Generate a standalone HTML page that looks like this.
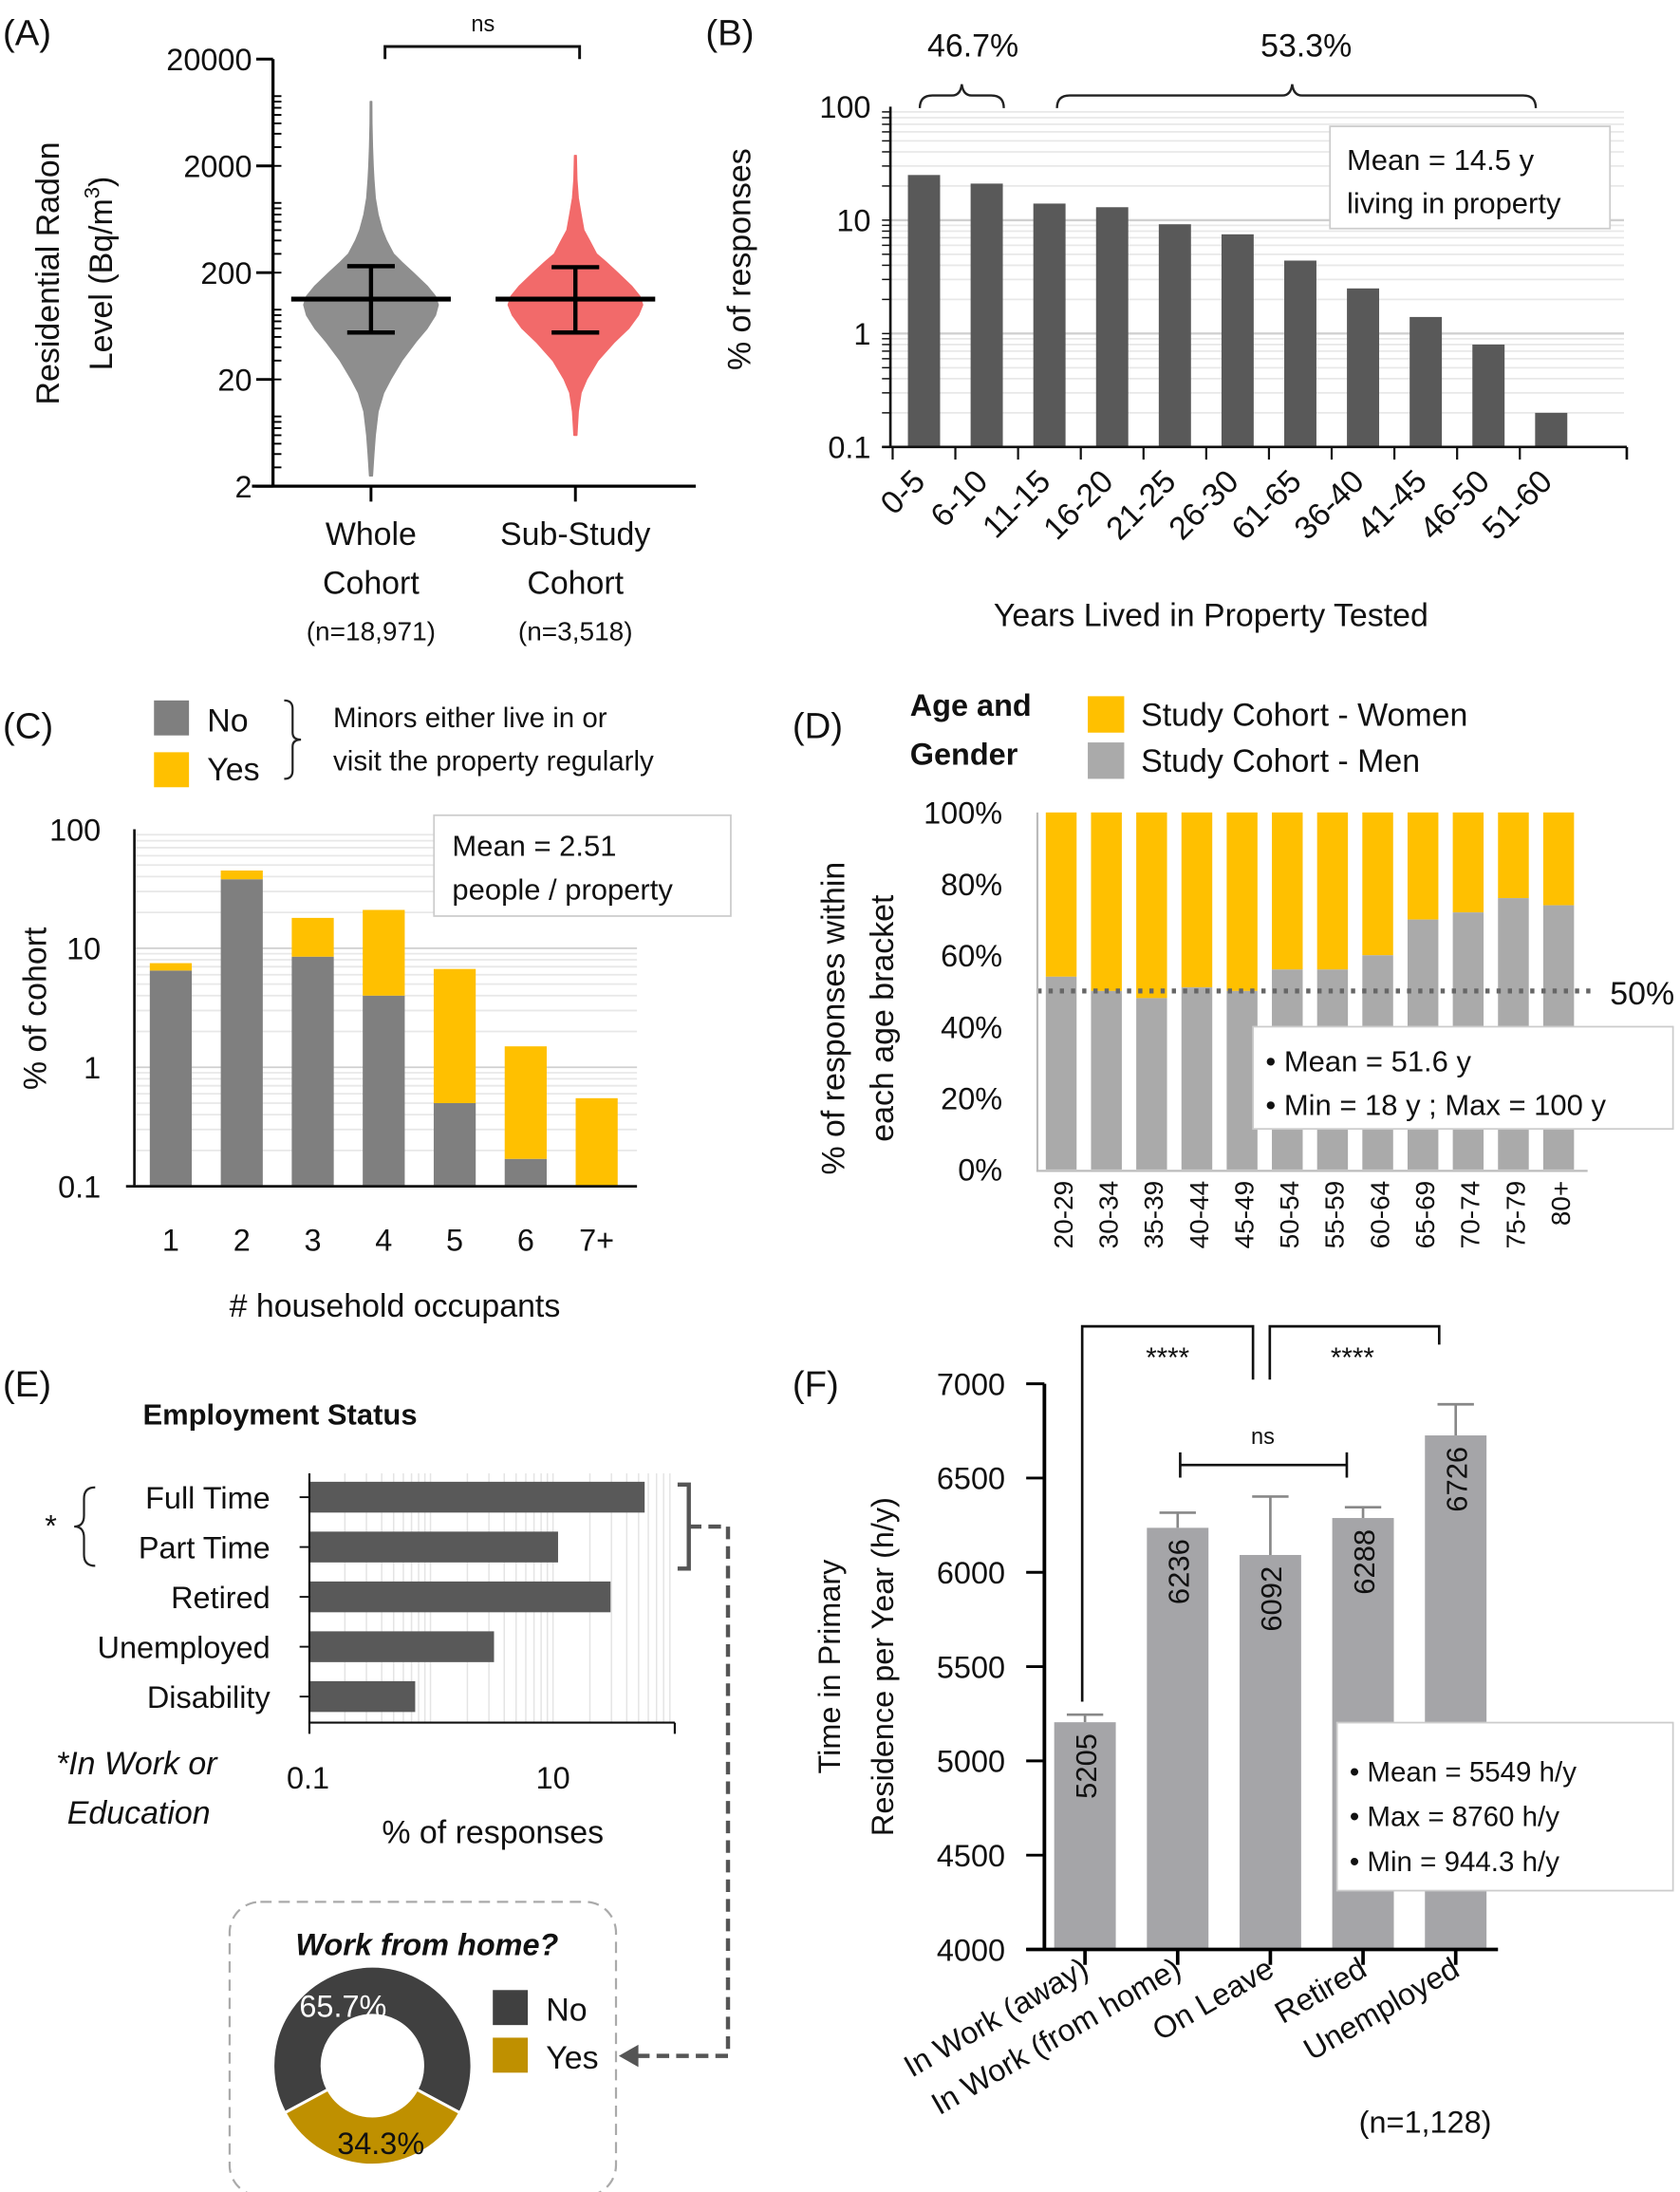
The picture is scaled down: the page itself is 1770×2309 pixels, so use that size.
<!DOCTYPE html>
<html><head><meta charset="utf-8"><title>Radon cohort figure</title>
<style>
html,body{margin:0;padding:0;background:#fff;}
svg{display:block;font-family:"Liberation Sans",Arial,sans-serif;}
text{fill:#111;}
</style></head>
<body>
<svg id="fig" xmlns="http://www.w3.org/2000/svg" width="1770" height="2309" viewBox="0 0 1200 1565">
<rect x="0" y="0" width="1200" height="1565" fill="#fff"/>
<g id="dyn"></g>
<g font-size="26">
<text x="2" y="32">(A)</text>
<text x="504" y="32">(B)</text>
<text x="2" y="527">(C)</text>
<text x="566" y="527">(D)</text>
<text x="2" y="997">(E)</text>
<text x="566" y="997">(F)</text>
</g>
<g font-size="23">
<text transform="translate(42,195) rotate(-90)" text-anchor="middle">Residential Radon</text>
<text transform="translate(80,195) rotate(-90)" text-anchor="middle">Level (Bq/m<tspan dy="-9" font-size="15">3</tspan><tspan dy="9">)</tspan></text>
<text x="265" y="389" text-anchor="middle">Whole</text>
<text x="265" y="424" text-anchor="middle">Cohort</text>
<text x="265" y="457" text-anchor="middle" font-size="19">(n=18,971)</text>
<text x="411" y="389" text-anchor="middle">Sub-Study</text>
<text x="411" y="424" text-anchor="middle">Cohort</text>
<text x="411" y="457" text-anchor="middle" font-size="19">(n=3,518)</text>
<path d="M275,42 V33 H414 V42" fill="none" stroke="#111" stroke-width="2"/>
<text x="345" y="22" text-anchor="middle" font-size="16">ns</text>
</g>
<g font-size="23">
<text transform="translate(536,185) rotate(-90)" text-anchor="middle">% of responses</text>
<text x="865" y="447" text-anchor="middle">Years Lived in Property Tested</text>
<text x="695" y="40" text-anchor="middle">46.7%</text>
<text x="933" y="40" text-anchor="middle">53.3%</text>
<path d="M657,77 q0,-9 9,-9 h14 q6,0 7,-8 q1,8 7,8 h14 q9,0 9,9" fill="none" stroke="#222" stroke-width="1.6"/>
<path d="M755,77 q0,-9 9,-9 h152 q6,0 7,-8 q1,8 7,8 h158 q9,0 9,9" fill="none" stroke="#222" stroke-width="1.6"/>
<rect x="950" y="90" width="200" height="73" fill="#fff" stroke="#ccc" stroke-width="1.2"/>
<text x="962" y="121" font-size="21">Mean = 14.5 y</text>
<text x="962" y="152" font-size="21">living in property</text>
</g>
<g font-size="23">
<rect x="110" y="500" width="25" height="25" fill="#7f7f7f"/>
<rect x="110" y="537" width="25" height="25" fill="#ffc000"/>
<text x="148" y="522">No</text>
<text x="148" y="557">Yes</text>
<path d="M203,500 q6,0 6,6 v17 q0,5 6,5 q-6,0 -6,5 v17 q0,6 -6,6" fill="none" stroke="#222" stroke-width="1.5"/>
<text x="238" y="519" font-size="20">Minors either live in or</text>
<text x="238" y="550" font-size="20">visit the property regularly</text>
<text transform="translate(33,720) rotate(-90)" text-anchor="middle">% of cohort</text>
<text x="282" y="940" text-anchor="middle"># household occupants</text>
<rect x="310" y="582" width="212" height="72" fill="#fff" stroke="#ccc" stroke-width="1.2"/>
<text x="323" y="611" font-size="21">Mean = 2.51</text>
<text x="323" y="642" font-size="21">people / property</text>
</g>
<g font-size="23">
<text x="650" y="511" font-weight="bold" font-size="22">Age and</text>
<text x="650" y="546" font-weight="bold" font-size="22">Gender</text>
<rect x="777" y="497" width="26" height="26" fill="#ffc000"/>
<rect x="777" y="530" width="26" height="26" fill="#aaaaaa"/>
<text x="815" y="518">Study Cohort - Women</text>
<text x="815" y="551">Study Cohort - Men</text>
<text transform="translate(603,727) rotate(-90)" text-anchor="middle">% of responses within</text>
<text transform="translate(638,727) rotate(-90)" text-anchor="middle">each age bracket</text>
<text x="1150" y="717">50%</text>
<rect x="895" y="733" width="300" height="73" fill="#fff" stroke="#ccc" stroke-width="1.2"/>
<text x="904" y="765" font-size="21">•   Mean = 51.6 y</text>
<text x="904" y="796" font-size="21">•   Min = 18 y ; Max = 100 y</text>
</g>
<g font-size="23">
<text x="200" y="1017" text-anchor="middle" font-weight="bold" font-size="21">Employment Status</text>
<text x="32" y="1097" font-size="22">*</text>
<path d="M68,1062 q-8,0 -8,8 v12 q0,8 -7,8 q7,0 7,8 v12 q0,8 8,8" fill="none" stroke="#222" stroke-width="1.5"/>
<text x="40" y="1267" font-style="italic">*In Work or</text>
<text x="48" y="1302" font-style="italic">Education</text>
<text x="352" y="1316" text-anchor="middle">% of responses</text>
<path d="M484,1060 h8 v60 h-8" fill="none" stroke="#555" stroke-width="3"/>
<path d="M492,1090 h28 v378 h-68" fill="none" stroke="#555" stroke-width="3" stroke-dasharray="9,5"/>
<path d="M442,1468 l14,-8 v16 z" fill="#555"/>
<rect x="164" y="1358" width="276" height="210" rx="22" fill="none" stroke="#aaa" stroke-width="1.5" stroke-dasharray="8,5"/>
<text x="305" y="1396" text-anchor="middle" font-weight="bold" font-style="italic" font-size="22">Work from home?</text>
<rect x="352" y="1421" width="25" height="25" fill="#404040"/>
<rect x="352" y="1455" width="25" height="25" fill="#bf9000"/>
<text x="390" y="1443">No</text>
<text x="390" y="1477">Yes</text>
</g>
<g font-size="22">
<text transform="translate(600,1190) rotate(-90)" text-anchor="middle">Time in Primary</text>
<text transform="translate(638,1190) rotate(-90)" text-anchor="middle">Residence per Year (h/y)</text>
<path d="M773,1215 V947 H895 V985" fill="none" stroke="#111" stroke-width="1.8"/>
<path d="M907,985 V947 H1028 V960" fill="none" stroke="#111" stroke-width="1.8"/>
<path d="M843,1055 V1037 M962,1055 V1037 M843,1046 H962" fill="none" stroke="#111" stroke-width="1.8"/>
<text x="834" y="976" text-anchor="middle" font-size="20">****</text>
<text x="966" y="976" text-anchor="middle" font-size="20">****</text>
<text x="902" y="1031" text-anchor="middle" font-size="16">ns</text>
<text x="1018" y="1523" text-anchor="middle">(n=1,128)</text>
<rect x="955" y="1230" width="240" height="120" fill="#fff" stroke="#ccc" stroke-width="1.2"/>
<text x="964" y="1272" font-size="20">•   Mean = 5549 h/y</text>
<text x="964" y="1304" font-size="20">•   Max = 8760 h/y</text>
<text x="964" y="1336" font-size="20">•   Min = 944.3 h/y</text>
</g>
</svg>
<script>
// ---------- DATA ----------
const aTickVals=[2,20,200,2000,20000];
const aLevels=[2.5,4,6,10,15,20,30,45,60,80,100,120,150,200,250,300,400,500,700,1000,1500,2000,3000,5000,8000];
const aWholeWidth=[1,2,3,5,9,14,22,32,40,46,48,46,40,30,22,16,11,8,5,3,2,1.5,1,0.6,0.5];
const aSubLevels=[6,10,15,20,30,45,60,80,100,120,150,200,250,300,400,500,700,1000,1500,2500];
const aSubWidth=[1,2,4,8,16,28,38,45,48,46,40,30,22,15,10,6,4,2,1,0.6];
const aMedians=[113,113];
const aQ1=[55,55];
const aQ3=[230,225];
const bCats=["0-5","6-10","11-15","16-20","21-25","26-30","61-65","36-40","41-45","46-50","51-60"];
const bVals=[25,21,14,13,9.2,7.5,4.4,2.5,1.4,0.8,0.2];
const bTicks=["0.1","1","10","100"];
const cCats=["1","2","3","4","5","6","7+"];
const cNo=[6.5,38,8.5,4,0.5,0.17,0];
const cTotal=[7.5,45,18,21,6.7,1.5,0.55];
const cTicks=["0.1","1","10","100"];
const dCats=["20-29","30-34","35-39","40-44","45-49","50-54","55-59","60-64","65-69","70-74","75-79","80+"];
const dMen=[54,50,48,51,50,56,56,60,70,72,76,74];
const dTicks=[0,20,40,60,80,100];
const eCats=["Full Time","Part Time","Retired","Unemployed","Disability"];
const eVals=[56,11,29.5,3.3,0.75];
const eTicks=["0.1","10"];
const wfhLabels=["No","Yes"];
const wfhVals=[65.7,34.3];
const fCats=["In Work (away)","In Work (from home)","On Leave","Retired","Unemployed"];
const fVals=[5205,6236,6092,6288,6726];
const fErr=[40,80,310,57,165];
const fTicks=[4000,4500,5000,5500,6000,6500,7000];

// ---------- HELPERS ----------
const NS="http://www.w3.org/2000/svg";
const root=document.getElementById('dyn');
function mk(tag,attrs,parent){const e=document.createElementNS(NS,tag);for(const k in attrs)e.setAttribute(k,attrs[k]);(parent||root).appendChild(e);return e;}
const L=Math.log10;
let el;

// ---------- PANEL A ----------
const yA=v=>347-(L(v)-L(2))*76.25;
const aX=[265,411];
function violin(cx,levels,widths,fill,name){
  let pts=[];
  for(let i=0;i<levels.length;i++)pts.push((cx+widths[i])+","+yA(levels[i]));
  for(let i=levels.length-1;i>=0;i--)pts.push((cx-widths[i])+","+yA(levels[i]));
  el=mk('polygon',{points:pts.join(' '),fill:fill,stroke:fill,'stroke-width':1,'stroke-linejoin':'round'});
  
  
}
violin(aX[0],aLevels,aWholeWidth,'#8e8e8e','a-violin-whole');
violin(aX[1],aSubLevels,aSubWidth,'#f26a6a','a-violin-substudy');
for(let i=0;i<2;i++){
  el=mk('line',{x1:aX[i]-57,x2:aX[i]+57,y1:yA(aMedians[i]),y2:yA(aMedians[i]),stroke:'#000','stroke-width':3.5});
  
  
  el=mk('path',{d:`M${aX[i]-17},${yA(aQ3[i])}H${aX[i]+17}M${aX[i]},${yA(aQ3[i])}V${yA(aQ1[i])}M${aX[i]-17},${yA(aQ1[i])}H${aX[i]+17}`,stroke:'#000','stroke-width':3,fill:'none'});
  
  
  el=mk('line',{x1:aX[i],x2:aX[i],y1:347,y2:358,stroke:'#000','stroke-width':2});
  
  
}
el=mk('path',{d:'M195,42 V347 M180,347 H497',stroke:'#000','stroke-width':2.2,fill:'none'});


aTickVals.forEach(v=>{
  el=mk('line',{x1:183,x2:195,y1:yA(v),y2:yA(v),stroke:'#000','stroke-width':2});
  
  
  el=mk('text',{x:180,y:yA(v)+8,'text-anchor':'end','font-size':22});
  el.textContent=String(v);
  
  
});
for(let d=0;d<4;d++)for(let m=2;m<=9;m++){
  const v=2*Math.pow(10,d)*m/2; if(v>=2*Math.pow(10,d+1))continue;
  el=mk('line',{x1:195,x2:201,y1:yA(v),y2:yA(v),stroke:'#000','stroke-width':1.3});
  
  
}

// ---------- PANEL B ----------
const yB=v=>319-(L(v)+1)*81;
const xB=i=>660+i*44.8;
for(let d=-1;d<2;d++)for(let m=1;m<=9;m++){
  const v=m*Math.pow(10,d); if(v<=0.1)continue;
  el=mk('line',{x1:636,x2:1160,y1:yB(v),y2:yB(v),stroke:m===1?'#d0d0d0':'#e8e8e8','stroke-width':m===1?1.6:1.2});
  
  
}
bVals.forEach((v,i)=>{
  el=mk('rect',{x:xB(i)-11.5,y:yB(v),width:23,height:319-yB(v),fill:'#595959'});
  
  
  el=mk('text',{transform:`translate(${xB(i)+2},345) rotate(-45)`,'text-anchor':'end','font-size':23});
  el.textContent=bCats[i];
  
  
  el=mk('line',{x1:xB(i)-22.4,x2:xB(i)-22.4,y1:319,y2:328,stroke:'#111','stroke-width':1.5});
  
  
});
el=mk('path',{d:'M636,76 V319 M630,319 H1162 M1162,319 V328',stroke:'#111','stroke-width':1.8,fill:'none'});


bTicks.forEach(t=>{
  el=mk('text',{x:622,y:yB(+t)+8,'text-anchor':'end','font-size':22});
  el.textContent=t;
  
  
});
for(let d=-1;d<2;d++)for(let m=1;m<=9;m++){const v=m*Math.pow(10,d);
  el=mk('line',{x1:630,x2:636,y1:yB(v),y2:yB(v),stroke:'#111','stroke-width':1});
  
  }

// ---------- PANEL C ----------
const yC=v=>847-(L(v)+1)*85;
const xC=i=>122+i*50.7;
for(let d=-1;d<2;d++)for(let m=1;m<=9;m++){
  const v=m*Math.pow(10,d); if(v<=0.1)continue;
  el=mk('line',{x1:96,x2:455,y1:yC(v),y2:yC(v),stroke:m===1?'#d0d0d0':'#e8e8e8','stroke-width':1.2});
  
  
}
cTotal.forEach((t,i)=>{
  const nTop=cNo[i]>0.1?yC(cNo[i]):847;
  if(cNo[i]>0.1){
    el=mk('rect',{x:xC(i)-15,y:nTop,width:30,height:847-nTop,fill:'#7f7f7f'});
    
    
  }
  el=mk('rect',{x:xC(i)-15,y:yC(t),width:30,height:nTop-yC(t),fill:'#ffc000'});
  
  
  el=mk('text',{x:xC(i),y:893,'text-anchor':'middle','font-size':22});
  el.textContent=cCats[i];
  
  
});
el=mk('path',{d:'M96,592 V847 M90,847 H455',stroke:'#111','stroke-width':1.8,fill:'none'});


cTicks.forEach(t=>{
  el=mk('text',{x:72,y:yC(+t)+8,'text-anchor':'end','font-size':22});
  el.textContent=t;
  
  
});

// ---------- PANEL D ----------
const yD=p=>835-p*2.55;
const xD=i=>758+i*32.3;
dMen.forEach((m,i)=>{
  el=mk('rect',{x:xD(i)-11,y:yD(100),width:22,height:yD(m)-yD(100),fill:'#ffc000'});
  
  
  el=mk('rect',{x:xD(i)-11,y:yD(m),width:22,height:835-yD(m),fill:'#aaaaaa'});
  
  
  el=mk('text',{transform:`translate(${xD(i)+8},843) rotate(-90)`,'text-anchor':'end','font-size':19});
  el.textContent=dCats[i];
  
  
});
el=mk('line',{x1:741,x2:1140,y1:yD(50),y2:yD(50),stroke:'#666','stroke-width':3.5,'stroke-dasharray':'3,5'});


el=mk('path',{d:'M741,580 V836 H1134',stroke:'#bbb','stroke-width':1.5,fill:'none'});


dTicks.forEach(t=>{
  el=mk('text',{x:716,y:yD(t)+8,'text-anchor':'end','font-size':22});
  el.textContent=t+'%';
  
  
});

// ---------- PANEL E ----------
const xE=v=>220+(L(v)+1)*87.5;
const yE=i=>1069+i*35.6;
for(let d=-1;d<2;d++)for(let m=1;m<=9;m++){
  const v=m*Math.pow(10,d); if(v<=0.1||v>100)continue;
  el=mk('line',{x1:xE(v),x2:xE(v),y1:1052,y2:1230,stroke:'#e4e4e4','stroke-width':1});
  
  
}
eVals.forEach((v,i)=>{
  el=mk('rect',{x:221,y:yE(i)-11,width:xE(v)-221,height:22,fill:'#595959'});
  
  
  el=mk('text',{x:193,y:yE(i)+8,'text-anchor':'end','font-size':22});
  el.textContent=eCats[i];
  
  
  el=mk('line',{x1:214,x2:221,y1:yE(i),y2:yE(i),stroke:'#111','stroke-width':1.3});
  
  
});
el=mk('path',{d:'M221,1052 V1230 H482 M221,1230 V1238 M482,1230 V1238',stroke:'#111','stroke-width':1.5,fill:'none'});


eTicks.forEach(t=>{
  el=mk('text',{x:xE(+t),y:1277,'text-anchor':'middle','font-size':22});
  el.textContent=t;
  
  
});
const dcx=266,dcy=1475,ro=71,ri=36;
const wfhColors=['#404040','#bf9000'];
const pol=(r,a)=>[dcx+r*Math.sin(a*Math.PI/180),dcy-r*Math.cos(a*Math.PI/180)];
const starts=[180+wfhVals[1]*1.8,180-wfhVals[1]*1.8];
wfhVals.forEach((v,i)=>{
  const a0=starts[i],a1=a0+v*3.6,large=v>50?1:0;
  const p0=pol(ro,a0),p1=pol(ro,a1),q1=pol(ri,a1),q0=pol(ri,a0);
  el=mk('path',{d:`M${p0}A${ro},${ro} 0 ${large} 1 ${p1}L${q1}A${ri},${ri} 0 ${large} 0 ${q0}Z`,fill:wfhColors[i],stroke:'#fff','stroke-width':2});
  
  
});
el=mk('text',{x:245,y:1440,'text-anchor':'middle','font-size':22,style:'fill:#fff'});
el.textContent=wfhVals[0]+'%';


el=mk('text',{x:272,y:1538,'text-anchor':'middle','font-size':22});
el.textContent=wfhVals[1]+'%';



// ---------- PANEL F ----------
const yF=v=>1392-(v-4000)*404/3000;
const xF=i=>775+i*66.2;
fVals.forEach((v,i)=>{
  el=mk('path',{d:`M${xF(i)},${yF(v)}V${yF(v+fErr[i])}M${xF(i)-13},${yF(v+fErr[i])}H${xF(i)+13}`,stroke:'#888','stroke-width':1.8,fill:'none'});
  
  
  el=mk('rect',{x:xF(i)-22,y:yF(v),width:44,height:1392-yF(v),fill:'#a5a5a8'});
  
  
  el=mk('text',{transform:`translate(${xF(i)+8},${yF(v)+8}) rotate(-90)`,'text-anchor':'end','font-size':21});
  el.textContent=String(v);
  
  
  el=mk('line',{x1:xF(i),x2:xF(i),y1:1392,y2:1403,stroke:'#000','stroke-width':2.5});
  
  
  el=mk('text',{transform:`translate(${xF(i)+4},1410) rotate(-30)`,'text-anchor':'end','font-size':22});
  el.textContent=fCats[i];
  
  
});
el=mk('path',{d:'M746,988 V1392 M733,1392 H1070',stroke:'#000','stroke-width':2.6,fill:'none'});


fTicks.forEach(t=>{
  el=mk('line',{x1:733,x2:746,y1:yF(t),y2:yF(t),stroke:'#000','stroke-width':2});
  
  
  el=mk('text',{x:718,y:yF(t)+8,'text-anchor':'end','font-size':22});
  el.textContent=String(t);
  
  
});
</script>
</body></html>
